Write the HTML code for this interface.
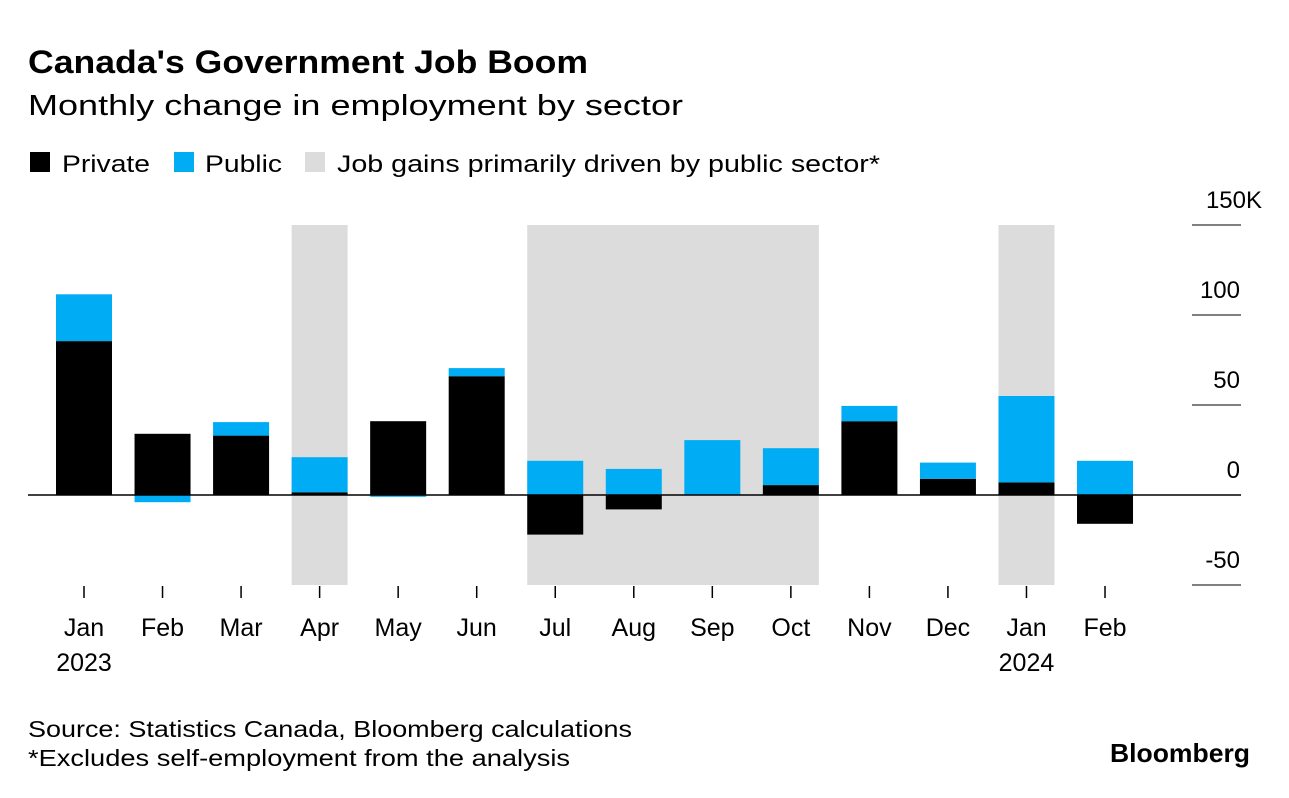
<!DOCTYPE html>
<html><head><meta charset="utf-8"><style>
body{margin:0;background:#fff;font-family:"Liberation Sans",sans-serif;}
svg{display:block}
</style></head><body>
<svg width="1289" height="798">
<text x="28" y="73" font-size="32" font-weight="bold" fill="#000" textLength="560" lengthAdjust="spacingAndGlyphs">Canada's Government Job Boom</text>
<text x="28" y="115" font-size="29" fill="#000" textLength="655" lengthAdjust="spacingAndGlyphs">Monthly change in employment by sector</text>
<g>
<rect x="30" y="152" width="20" height="20" fill="#000"/>
<text x="62" y="172" font-size="24" textLength="88" lengthAdjust="spacingAndGlyphs">Private</text>
<rect x="174" y="152" width="20" height="20" fill="#00adf5"/>
<text x="205" y="172" font-size="24" textLength="77" lengthAdjust="spacingAndGlyphs">Public</text>
<rect x="305" y="152" width="20" height="20" fill="#dcdcdc"/>
<text x="337" y="172" font-size="24" textLength="543" lengthAdjust="spacingAndGlyphs">Job gains primarily driven by public sector*</text>
</g>
<g id="plot"></g>
<text x="28" y="737" font-size="23" textLength="604" lengthAdjust="spacingAndGlyphs">Source: Statistics Canada, Bloomberg calculations</text>
<text x="28" y="766" font-size="23" textLength="542" lengthAdjust="spacingAndGlyphs">*Excludes self-employment from the analysis</text>
<text x="1110" y="762" font-size="26" font-weight="bold" textLength="140" lengthAdjust="spacingAndGlyphs">Bloomberg</text>
</svg>
<script>
const months=["Jan","Feb","Mar","Apr","May","Jun","Jul","Aug","Sep","Oct","Nov","Dec","Jan","Feb"];
const years=["2023","","","","","","","","","","","","2024",""];
const privateVals=[85.5,34,33,1.5,41,66,-22,-8,0,5.5,41,9,7,-16];
const publicVals=[26,-4,7.5,19.5,-1,4.5,19,14.5,30.5,20.5,8.5,9,48,19];
const shaded=[false,false,false,true,false,false,true,true,true,true,false,false,true,false];
const yTicks=[150,100,50,0,-50];
const NS="http://www.w3.org/2000/svg";
const g=document.getElementById('plot');
const y=v=>495-v*1.8;
const x=i=>84+i*78.54;
const bw=56;
function el(t,a,p){const e=document.createElementNS(NS,t);for(const k in a)e.setAttribute(k,a[k]);(p||g).appendChild(e);return e;}
let i=0;
while(i<months.length){
 if(shaded[i]){let j=i;while(j+1<months.length&&shaded[j+1])j++;
  const r=el('rect',{x:x(i)-bw/2,y:y(150),width:x(j)-x(i)+bw,height:y(-50)-y(150),fill:'#dcdcdc'});
  
  
  i=j+1;}else i++;
}
yTicks.forEach(t=>{
 if(t!==0){const l=el('line',{x1:1192,x2:1241,y1:y(t),y2:y(t),stroke:'#000','stroke-width':1});
 
 }
 const tx=el('text',{x:t===150?1262:1240,y:y(t)-17,'font-size':24,'text-anchor':'end'});
 tx.textContent=t===150?'150K':String(t);
 
 
});
months.forEach((m,k)=>{
 let pos=0,neg=0;
 [[privateVals[k],'#000','bar-private'],[publicVals[k],'#00adf5','bar-public']].forEach(([v,c,n])=>{
  let y0,y1;
  if(v>=0){y0=pos;y1=pos+v;pos=y1;}else{y0=neg;y1=neg+v;neg=y1;}
  const r=el('rect',{x:x(k)-bw/2,y:Math.min(y(y0),y(y1)),width:bw,height:Math.abs(y(y1)-y(y0)),fill:c});
  
  
 });
 const tk=el('line',{x1:x(k),x2:x(k),y1:586,y2:598,stroke:'#000','stroke-width':1.5});
 
 
 const lb=el('text',{x:x(k),y:636,'font-size':25,'text-anchor':'middle'});
 lb.textContent=m;
 
 
 if(years[k]){const yl=el('text',{x:x(k),y:671,'font-size':25,'text-anchor':'middle'});
  yl.textContent=years[k];
  
  }
});
const z=el('line',{x1:28,x2:1241,y1:y(0),y2:y(0),stroke:'#000','stroke-width':1.5});


</script>
</body></html>
